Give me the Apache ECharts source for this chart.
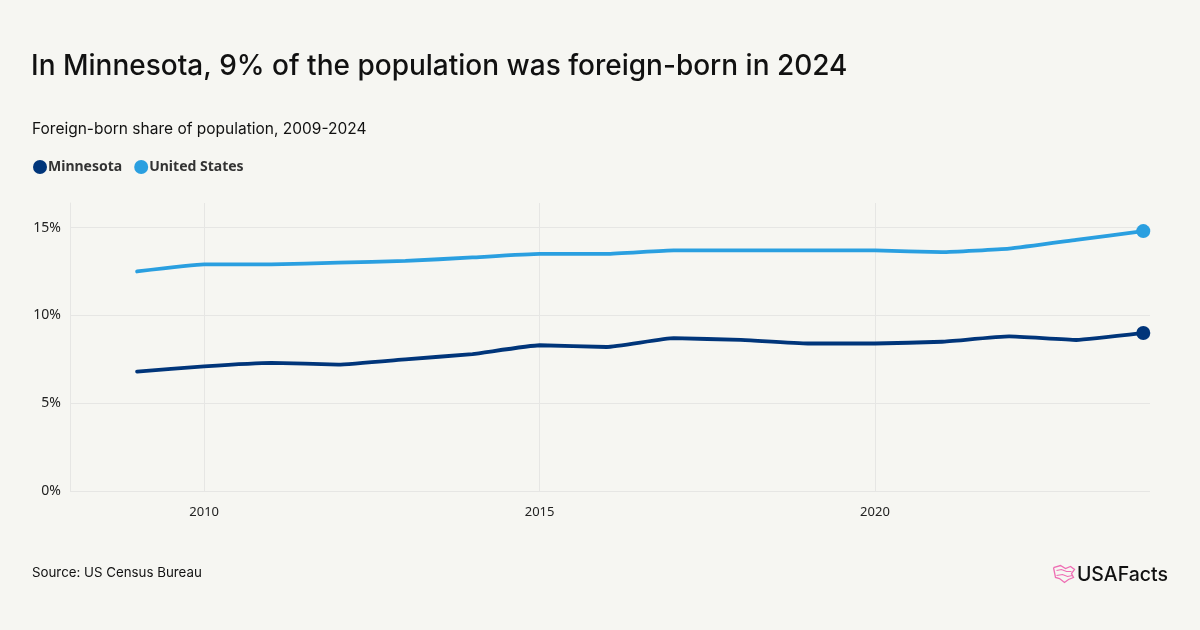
<!DOCTYPE html>
<html>
<head>
<meta charset="utf-8">
<script src="https://cdn.jsdelivr.net/npm/echarts@6/dist/echarts.min.js"></script>
<style>
  html, body { margin: 0; padding: 0; background: #f6f6f2; }
  #chart { width: 1200px; height: 630px; }
</style>
</head>
<body>
<div id="chart"></div>
<script>
// Foreign-born share of population (%)
const years = [2009, 2010, 2011, 2012, 2013, 2014, 2015, 2016, 2017, 2018, 2019, 2020, 2021, 2022, 2023, 2024];
const minnesota = [6.8, 7.1, 7.3, 7.2, 7.5, 7.8, 8.3, 8.2, 8.7, 8.6, 8.4, 8.4, 8.5, 8.8, 8.6, 9.0];
const unitedStates = [12.5, 12.9, 12.9, 13.0, 13.1, 13.3, 13.5, 13.5, 13.7, 13.7, 13.7, 13.7, 13.6, 13.8, 14.3, 14.8];
const yearTicks = [2010, 2015, 2020];
const percentTicks = [0, 5, 10, 15];

const seriesNames = ["Minnesota", "United States"];
const seriesColors = ["#00357a", "#2a9fe0"];

const chart = echarts.init(document.getElementById("chart"));

function lineSeries(name, values, color) {
    const last = values.length - 1;
    return {
        name: name,
        type: "line",
        smooth: 0.12,
        data: values.map((v, i) => ({
            value: [years[i], v],
            symbol: i === last ? "circle" : "none",
            symbolSize: 14,
        })),
        lineStyle: { width: 3.8, color: color, cap: "round", join: "round" },
        itemStyle: { color: color },
        emphasis: { disabled: true },
    };
}

chart.setOption({
    backgroundColor: "#f6f6f2",
    textStyle: { fontFamily: "Inter, 'Noto Sans', sans-serif" },
    title: [
        {
            text: "In Minnesota, 9% of the population was foreign-born in 2024",
            left: 26,
            top: 48,
            textStyle: { fontFamily: "Inter", fontSize: 28, fontWeight: 500, color: "#111111" },
        },
        {
            text: "Foreign-born share of population, 2009-2024",
            left: 27,
            top: 116,
            textStyle: { fontFamily: "Inter", fontSize: 15.5, fontWeight: 400, color: "#111111" },
        },
        {
            text: "Source: US Census Bureau",
            left: 27,
            top: 561,
            textStyle: { fontFamily: "Inter", fontSize: 13.3, fontWeight: 400, color: "#111111" },
        },
        {
            text: "USAFacts",
            right: 27,
            top: 560,
            textStyle: { fontFamily: "Inter", fontSize: 19.5, fontWeight: 500, color: "#111111" },
        },
    ],
    legend: {
        left: 28,
        top: 155,
        icon: "circle",
        itemWidth: 14,
        itemHeight: 14,
        itemGap: 12,
        data: seriesNames,
        textStyle: { fontFamily: "'Noto Sans'", fontSize: 14, fontWeight: "bold", color: "#333333", padding: [0, 0, 0, -4] },
    },
    graphic: [
        {
            type: "polyline",
            left: 1051,
            top: 563,
            shape: {
                points: [[0, 2], [7, 0], [12, 3], [17, 1], [21, 4], [18, 8], [20, 12], [15, 14], [11, 17], [6, 13], [2, 12], [0, 2]],
            },
            style: { fill: null, stroke: "#ee6db3", lineWidth: 1.3 },
        },
        {
            type: "polyline",
            left: 1054,
            top: 567,
            shape: { points: [[0, 1], [5, 0], [10, 2], [15, 2]] },
            style: { fill: null, stroke: "#ee6db3", lineWidth: 1.1 },
        },
        {
            type: "polyline",
            left: 1054,
            top: 572,
            shape: { points: [[0, 1], [6, 0], [11, 2], [16, 1]] },
            style: { fill: null, stroke: "#ee6db3", lineWidth: 1.1 },
        },
    ],
    grid: { left: 70, right: 50, top: 203, bottom: 139 },
    xAxis: {
        type: "value",
        min: 2008,
        max: 2024.1,
        axisLine: { show: false },
        axisTick: { show: false, customValues: yearTicks },
        axisLabel: {
            customValues: yearTicks,
            color: "#222222",
            fontFamily: "'Noto Sans'",
            fontSize: 13,
            margin: 15,
            formatter: (v) => String(v),
        },
        splitLine: { show: true, lineStyle: { color: "#e6e6e4", width: 1 } },
    },
    yAxis: {
        type: "value",
        min: 0,
        max: 16.4,
        axisLine: { show: true, lineStyle: { color: "#e6e6e4", width: 1 } },
        axisTick: { show: false, customValues: percentTicks },
        axisLabel: {
            customValues: percentTicks,
            color: "#222222",
            fontFamily: "'Noto Sans'",
            fontSize: 14,
            margin: 9,
            formatter: (v) => v + "%",
        },
        splitLine: { show: true, lineStyle: { color: "#e6e6e4", width: 1 } },
    },
    series: [
        lineSeries(seriesNames[0], minnesota, seriesColors[0]),
        lineSeries(seriesNames[1], unitedStates, seriesColors[1]),
    ],
});
</script>
</body>
</html>
